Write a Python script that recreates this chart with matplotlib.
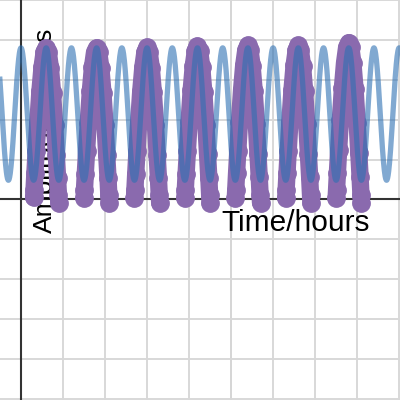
import numpy as np
import matplotlib
matplotlib.use('Agg')
import matplotlib.pyplot as plt

plt.rcParams['font.family'] = ['Liberation Sans', 'DejaVu Sans']

# blue model curve
wave_mid = 2.14     # midline
wave_amp = 1.66     # amplitude
wave_period = 0.6   # one cycle in grid units

# purple measured points: one arch on every second cycle
peak_t = [0.6, 1.8, 3.0, 4.2, 5.4, 6.6, 7.8]
peak_h = [3.80, 3.80, 3.81, 3.84, 3.86, 3.86, 3.93]
base_left = [0.05, 0.04, 0.04, 0.04, 0.04, 0.04, 0.04]
base_right = [-0.08, -0.08, -0.08, -0.09, -0.08, -0.08, -0.08]
# shape of one arch (offset from the peak, fraction of the peak height)
arch_dt = [-0.3, -0.29, -0.27, -0.24, -0.2, -0.15, -0.1, -0.05, 0.0,
           0.05, 0.1, 0.15, 0.2, 0.24, 0.27, 0.29, 0.3]
arch_frac = [0.0, 0.05, 0.16, 0.31, 0.5, 0.71, 0.87, 0.97, 1.0,
             0.97, 0.87, 0.71, 0.5, 0.31, 0.16, 0.05, 0.0]

x_label = 'Time/hours'
y_label = 'Amplitude/metres'

fig = plt.figure(figsize=(4, 4), dpi=100)
ax = fig.add_axes([0, 0, 1, 1])
ax.set_xlim(-0.5, 9.02)
ax.set_ylim(-5.03, 4.99)

# grid like desmos
ax.set_xticks(np.arange(0, 10))
ax.set_yticks(np.arange(-5, 6))
ax.grid(True, color='#d8d8d8', lw=1.4, zorder=0)
ax.tick_params(length=0, labelbottom=False, labelleft=False)
for s in ax.spines.values():
    s.set_visible(False)
ax.axvline(5, color='#ababab', lw=1.4, zorder=1)
ax.axvline(0, color='#333333', lw=1.5, zorder=2)
ax.axhline(0, color='#333333', lw=1.5, zorder=2)

ax.text(4.78, -0.786, x_label, fontsize=21.5, ha='left', va='baseline', zorder=3)
ax.text(0.731, -0.844, y_label, fontsize=19, rotation=90, rotation_mode='anchor',
        ha='left', va='baseline', zorder=3)

purple = '#8a6aae'
for k in range(len(peak_t)):
    tt = []
    yy = []
    for dt, fr in zip(arch_dt, arch_frac):
        base = base_left[k] if dt < 0 else base_right[k]
        tt.append(peak_t[k] + dt)
        yy.append(base + fr * (peak_h[k] - base))
    ax.plot(tt, yy, color=purple, lw=12.5, marker='o', ms=12.5,
            solid_joinstyle='round', solid_capstyle='round', zorder=4)

t = np.linspace(-0.6, 9.1, 1500)
ax.plot(t, wave_mid + wave_amp * np.cos(2 * np.pi * t / wave_period),
        color='#2d70b3', alpha=0.6, lw=3.8, zorder=5)

fig.savefig('out.png', dpi=100)
